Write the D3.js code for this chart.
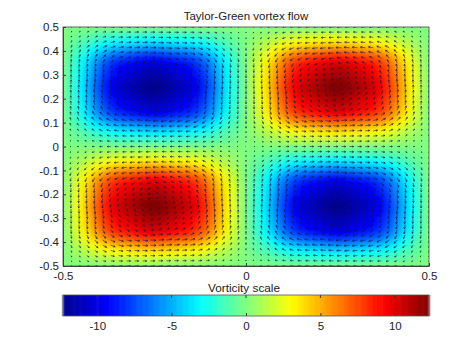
<!DOCTYPE html>
<html>
<head>
<meta charset="utf-8">
<script src="https://cdn.jsdelivr.net/npm/d3@7"></script>
<style>
body { margin: 0; background: #fff; }
text { font-family: "Liberation Sans", Arial, sans-serif; fill: #222; }
</style>
</head>
<body>
<svg id="chart" width="474" height="355"></svg>
<script>
const title_text = "Taylor-Green vortex flow";
const scale_text = "Vorticity scale";
const x_ticks = [-0.5, 0, 0.5];
const y_ticks = [0.5, 0.4, 0.3, 0.2, 0.1, 0, -0.1, -0.2, -0.3, -0.4, -0.5];
const scale_ticks = [-10, -5, 0, 5, 10];
const scale_max = 12.3;
const grid_size = 47;

// |vorticity| for one corner of one vortex (wall -> vortex centre),
// the four vortices repeat it mirrored. rows go up/down, columns left/right
const corner_vorticity = [
    [0, 0, 0, 0, 0, 0, 0, 0, 0, 0, 0, 0],
    [0, 0.16, 0.32, 0.49, 0.69, 0.87, 1.0, 1.1, 1.15, 1.2, 1.26, 1.3],
    [0, 0.32, 0.63, 0.97, 1.37, 1.73, 2.0, 2.2, 2.3, 2.41, 2.51, 2.6],
    [0, 0.49, 0.98, 1.5, 2.11, 2.67, 3.09, 3.38, 3.54, 3.71, 3.87, 4.0],
    [0, 0.7, 1.39, 2.13, 3.01, 3.8, 4.4, 4.82, 5.05, 5.28, 5.51, 5.7],
    [0, 0.93, 1.85, 2.84, 4.01, 5.07, 5.87, 6.43, 6.73, 7.05, 7.35, 7.6],
    [0, 1.12, 2.24, 3.44, 4.86, 6.14, 7.1, 7.78, 8.15, 8.53, 8.9, 9.2],
    [0, 1.26, 2.51, 3.85, 5.44, 6.87, 7.95, 8.71, 9.13, 9.55, 9.96, 10.3],
    [0, 1.33, 2.66, 4.08, 5.76, 7.27, 8.41, 9.22, 9.66, 10.1, 10.54, 10.9],
    [0, 1.39, 2.78, 4.26, 6.02, 7.6, 8.8, 9.64, 10.1, 10.57, 11.02, 11.4],
    [0, 1.45, 2.9, 4.45, 6.28, 7.94, 9.19, 10.07, 10.54, 11.03, 11.5, 11.9],
    [0, 1.5, 3.0, 4.6, 6.5, 8.2, 9.5, 10.4, 10.9, 11.4, 11.9, 12.3]
];

const svg = d3.select("#chart");
const plot = {left: 63, right: 429, top: 27, bottom: 266};
const bar = {top: 295, bottom: 316};

const x = d3.scaleLinear().domain([-0.5, 0.5]).range([plot.left, plot.right]);
const y = d3.scaleLinear().domain([-0.5, 0.5]).range([plot.bottom, plot.top]);
const bar_x = d3.scaleLinear().domain([-scale_max, scale_max]).range([plot.left, plot.right]);

// jet colormap
const jet = d3.scaleLinear()
    .domain([0, 0.125, 0.375, 0.625, 0.875, 1].map(t => -scale_max + 2 * scale_max * t))
    .range(["#00008f", "#0000ff", "#00ffff", "#ffff00", "#ff0000", "#800000"])
    .clamp(true);

// unfold the corner into the full grid, row 0 at y = -0.5
function fold(i) {
    let q = i <= 23 ? i : 46 - i;
    return Math.min(q, 23 - q);
}
const vort = d3.range(grid_size).map(j => d3.range(grid_size).map(i => {
    let sign = (i < 23) === (j > 23) ? -1 : 1;
    return sign * corner_vorticity[fold(j)][fold(i)];
}));

const grid_x = i => i / (grid_size - 1) - 0.5;
const cells = [];
vort.forEach((row, j) => row.forEach((w, i) => cells.push({i: i, j: j, w: w})));

const defs = svg.append("defs");
defs.append("clipPath").attr("id", "plot_clip")
    .append("rect")
    .attr("x", plot.left).attr("y", plot.top)
    .attr("width", plot.right - plot.left).attr("height", plot.bottom - plot.top);
const blur = defs.append("filter").attr("id", "smooth")
    .attr("filterUnits", "userSpaceOnUse")
    .attr("x", plot.left - 20).attr("y", plot.top - 20)
    .attr("width", plot.right - plot.left + 40).attr("height", plot.bottom - plot.top + 40);
blur.append("feGaussianBlur").attr("stdDeviation", "3 2").attr("edgeMode", "duplicate");
defs.append("filter").attr("id", "soft")
    .append("feGaussianBlur").attr("stdDeviation", 0.45);
defs.append("filter").attr("id", "soft_bar")
    .append("feGaussianBlur").attr("stdDeviation", "0.9 0").attr("edgeMode", "duplicate");

const plot_g = svg.append("g").attr("clip-path", "url(#plot_clip)");

const cell_w = x(grid_x(1)) - x(grid_x(0));
const cell_h = y(grid_x(0)) - y(grid_x(1));

plot_g.append("g").attr("filter", "url(#smooth)")
    .selectAll("rect")
    .data(cells)
    .enter()
    .append("rect")
    .attr("x", d => x(grid_x(d.i)) - cell_w / 2 - 0.3)
    .attr("y", d => y(grid_x(d.j)) - cell_h / 2 - 0.3)
    .attr("width", cell_w + 0.6)
    .attr("height", cell_h + 0.6)
    .attr("fill", d => jet(d.w));

// velocity follows the vorticity gradient, lengths squeezed a bit like the picture
const arrow_scale_x = 0.0097, arrow_scale_y = 0.0135;
function arrow_path(d) {
    const i = d.i, j = d.j;
    const i0 = Math.max(i - 1, 0), i1 = Math.min(i + 1, grid_size - 1);
    const j0 = Math.max(j - 1, 0), j1 = Math.min(j + 1, grid_size - 1);
    let u = (vort[j1][i] - vort[j0][i]) / (j1 - j0);
    let v = -(vort[j][i1] - vort[j][i0]) / (i1 - i0);
    const mag = Math.hypot(u, v);
    if (mag > 0) {
        u = u / mag * Math.pow(mag, 0.75);
        v = v / mag * Math.pow(mag, 0.75);
    }
    const x0 = x(grid_x(i)), y0 = y(grid_x(j));
    const x1 = x(grid_x(i) + u * arrow_scale_x), y1 = y(grid_x(j) + v * arrow_scale_y);
    const ang = Math.atan2(y1 - y0, x1 - x0);
    const len = Math.hypot(x1 - x0, y1 - y0);
    const head = len * 0.35 + 0.4;
    const wing = s => (x1 - head * Math.cos(ang + s * 0.45)) + "," + (y1 - head * Math.sin(ang + s * 0.45));
    return "M" + x0 + "," + y0 + "L" + x1 + "," + y1 + "M" + wing(1) + "L" + x1 + "," + y1 + "L" + wing(-1);
}

plot_g.append("g").attr("filter", "url(#soft)")
    .selectAll("path")
    .data(cells)
    .enter()
    .append("path")
    .attr("d", arrow_path)
    .attr("fill", "none")
    .attr("stroke", "#14144c")
    .attr("stroke-opacity", 0.75)
    .attr("stroke-width", 0.75);

// axes, matlab style box with inward ticks
const x_axis = d3.axisBottom(x).tickValues(x_ticks).tickSizeInner(-3).tickSizeOuter(0)
    .tickPadding(6).tickFormat(d => d);
const y_axis = d3.axisLeft(y).tickValues(y_ticks).tickSizeInner(-3).tickSizeOuter(0)
    .tickPadding(4).tickFormat(d => d);

const gx = svg.append("g").attr("transform", "translate(0," + plot.bottom + ")").call(x_axis);
const gy = svg.append("g").attr("transform", "translate(" + plot.left + ",0)").call(y_axis);
[gx, gy].forEach(g => {
    g.selectAll("text").attr("font-size", 11.5);
    g.selectAll("line").attr("stroke", "#333");
    g.select(".domain").attr("stroke", "#444");
});
svg.append("rect")
    .attr("x", plot.left).attr("y", plot.top)
    .attr("width", plot.right - plot.left).attr("height", plot.bottom - plot.top)
    .attr("fill", "none").attr("stroke", "#444").attr("stroke-width", 0.8);

svg.append("text")
    .attr("x", 246).attr("y", 20)
    .attr("text-anchor", "middle")
    .attr("font-size", 11.5)
    .text(title_text);

// colorbar
const bar_levels = d3.range(64).map(k => -scale_max + 2 * scale_max * (k + 0.5) / 64);
const level_w = (plot.right - plot.left) / 64;
svg.append("g").attr("filter", "url(#soft_bar)").selectAll("rect")
    .data(bar_levels)
    .enter()
    .append("rect")
    .attr("x", d => bar_x(d) - level_w / 2)
    .attr("y", bar.top)
    .attr("width", level_w + 0.4)
    .attr("height", bar.bottom - bar.top)
    .attr("fill", d => jet(d));

const bar_axis = d3.axisBottom(bar_x).tickValues(scale_ticks).tickSizeInner(-3).tickSizeOuter(0)
    .tickPadding(6).tickFormat(d => d);
const gb = svg.append("g").attr("transform", "translate(0," + bar.bottom + ")").call(bar_axis);
gb.selectAll("text").attr("font-size", 11.5);
gb.selectAll("line").attr("stroke", "#333");
gb.select(".domain").attr("stroke", "none");
svg.append("g").selectAll("line")
    .data(scale_ticks)
    .enter()
    .append("line")
    .attr("x1", d => bar_x(d)).attr("x2", d => bar_x(d))
    .attr("y1", bar.top).attr("y2", bar.top + 3)
    .attr("stroke", "#333");
svg.append("rect")
    .attr("x", plot.left).attr("y", bar.top)
    .attr("width", plot.right - plot.left).attr("height", bar.bottom - bar.top)
    .attr("fill", "none").attr("stroke", "#555").attr("stroke-width", 0.8);

svg.append("text")
    .attr("x", 244).attr("y", 292)
    .attr("text-anchor", "middle")
    .attr("font-size", 11.8)
    .text(scale_text);
</script>
</body>
</html>
